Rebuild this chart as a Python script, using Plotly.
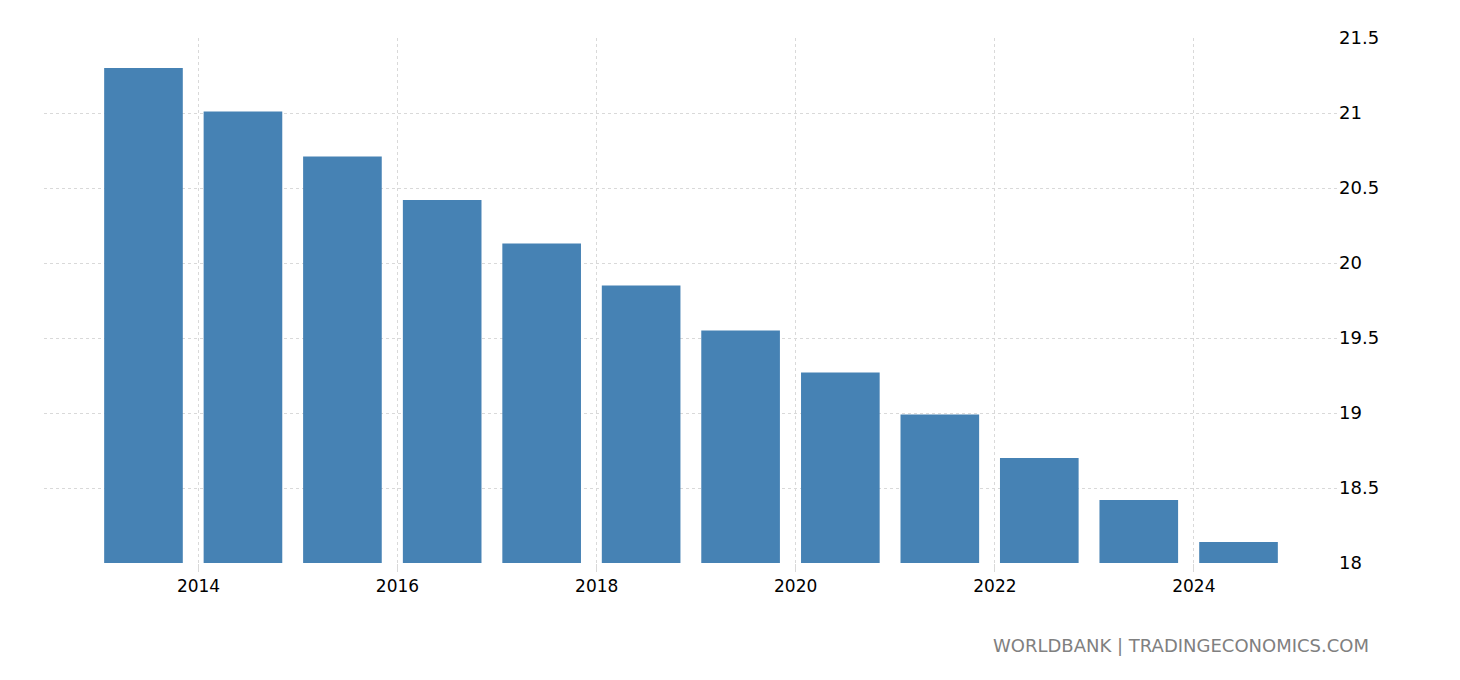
import plotly.graph_objects as go

# dados (2013-2024)
anos = [2013, 2014, 2015, 2016, 2017, 2018, 2019, 2020, 2021, 2022, 2023, 2024]
valores = [21.30, 21.01, 20.71, 20.42, 20.13, 19.85, 19.55, 19.27, 18.99, 18.70, 18.42, 18.14]
y_ticks = [18, 18.5, 19, 19.5, 20, 20.5, 21, 21.5]
y_labels = ["18", "18.5", "19", "19.5", "20", "20.5", "21", "21.5"]
x_ticks = ["2014-01-01", "2016-01-01", "2018-01-01", "2020-01-01", "2022-01-01", "2024-01-01"]
x_labels = ["2014", "2016", "2018", "2020", "2022", "2024"]

datas = [f"{a}-06-13" for a in anos]
ano_ms = 365.25 * 24 * 3600 * 1000

fig = go.Figure()

fig.add_trace(go.Bar(
    x=datas,
    y=valores,
    width=[0.79 * ano_ms] * len(datas),
    marker=dict(color="#4682b4", line=dict(width=0)),
))

fig.update_layout(
    width=1460,
    height=680,
    margin={"l": 36, "r": 130, "t": 30, "b": 125},
    plot_bgcolor="white",
    paper_bgcolor="white",
    showlegend=False,
    font=dict(family="DejaVu Sans", size=17, color="black"),
    annotations=[dict(
        text="WORLDBANK | TRADINGECONOMICS.COM",
        xref="paper", yref="paper",
        x=(1371 - 44) / (1338 - 44), y=-(645 - 563) / (563 - 38),
        xanchor="right", yanchor="middle",
        showarrow=False,
        font=dict(family="DejaVu Sans", size=18, color="#808080"),
    )],
)

fig.update_xaxes(
    type="date",
    range=["2012-06-13", "2025-06-13"],
    tickvals=x_ticks,
    ticktext=x_labels,
    showgrid=True,
    gridcolor="#d9d9d9",
    griddash="dot",
    gridwidth=1,
    ticks="outside",
    ticklen=8,
    tickcolor="#d9d9d9",
    showline=False,
    zeroline=False,
    tickfont=dict(size=17),
)

fig.update_yaxes(
    side="right",
    range=[18, 21.5],
    tickvals=y_ticks,
    ticktext=y_labels,
    showgrid=True,
    gridcolor="#d9d9d9",
    griddash="dot",
    gridwidth=1,
    zeroline=False,
    showline=False,
    ticks="",
    tickfont=dict(size=18),
)

fig.write_html("out.html")
